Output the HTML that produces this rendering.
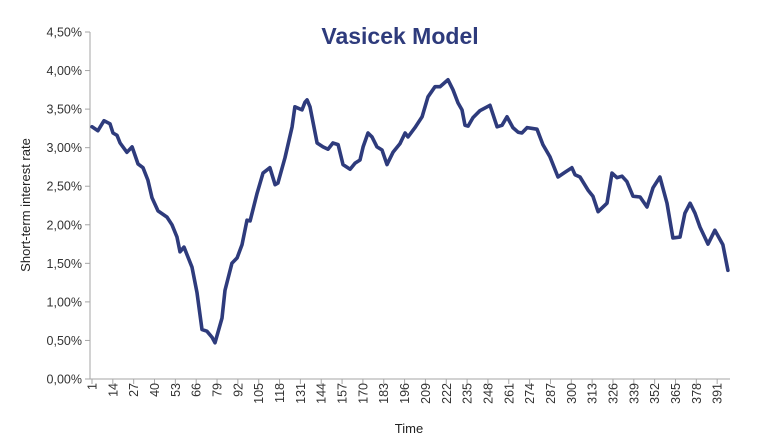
<!DOCTYPE html>
<html><head><meta charset="utf-8"><style>
html,body{margin:0;padding:0;background:#fff;}
svg{display:block;font-family:"Liberation Sans",sans-serif;}
</style></head><body>
<svg id="chart" width="768" height="438" viewBox="0 0 768 438" xmlns="http://www.w3.org/2000/svg">
<text x="400" y="44" text-anchor="middle" font-size="23" font-weight="bold" fill="#2E3B7C">Vasicek Model</text>
<text transform="translate(30,205) rotate(-90)" text-anchor="middle" font-size="13" fill="#222">Short-term interest rate</text>
<text x="409" y="433" text-anchor="middle" font-size="13" fill="#222">Time</text>
<g id="axes"></g>
<g id="series"></g>
</svg>
<script>
const times=[1,4.7,8.5,12.2,14.1,16.6,18.5,22.8,26,29.7,32.8,35.9,38.4,42.2,47.8,50.9,54,55.9,58.4,63.4,66.5,69.6,72.7,75.9,77.7,82.1,84,88.3,91.5,94.6,97.7,99.6,104,107.7,112,115.2,117,121.4,125.8,127.6,132,133.9,135.2,137,141.4,145.1,148.2,151.3,154.5,157.6,162,165.1,168.2,170.1,173.2,175.7,178.8,181.9,185,188.8,193.1,196.3,198.1,202.5,206.9,210.6,215,218.1,223.1,226.2,229.3,231.8,233.7,235.6,238.7,243,249.3,253.7,256.8,259.9,263.6,266.8,269.2,272.4,278.6,282.3,286.7,291.7,296.1,300.4,302.3,305.4,310.4,313.5,316.7,322.3,325.4,328.5,331.6,334.7,338.5,342.9,347.2,351,355.3,359.7,363.4,367.8,370.9,374.1,377.2,380.3,385.3,389.6,394.6,397.7];
const rates=[3.27,3.22,3.35,3.31,3.19,3.16,3.06,2.94,3.01,2.79,2.74,2.58,2.35,2.18,2.10,2.00,1.84,1.65,1.71,1.45,1.12,0.64,0.62,0.54,0.47,0.79,1.15,1.50,1.57,1.74,2.06,2.05,2.41,2.67,2.74,2.52,2.54,2.87,3.27,3.53,3.49,3.59,3.62,3.53,3.06,3.01,2.98,3.06,3.04,2.78,2.72,2.80,2.84,3.01,3.19,3.14,3.01,2.97,2.78,2.94,3.05,3.19,3.14,3.26,3.40,3.66,3.79,3.79,3.88,3.75,3.58,3.49,3.29,3.28,3.39,3.48,3.55,3.27,3.29,3.40,3.26,3.20,3.19,3.26,3.24,3.04,2.88,2.62,2.68,2.74,2.65,2.62,2.45,2.37,2.17,2.28,2.67,2.61,2.63,2.56,2.37,2.36,2.23,2.48,2.62,2.28,1.83,1.84,2.15,2.28,2.15,1.97,1.75,1.93,1.74,1.41];
const yTicks=[0,0.5,1,1.5,2,2.5,3,3.5,4,4.5];
const xTicks=[1,14,27,40,53,66,79,92,105,118,131,144,157,170,183,196,209,222,235,248,261,274,287,300,313,326,339,352,365,378,391];
const NS="http://www.w3.org/2000/svg";
const x0=90,x1=730,y0=379,yTop=32;
function xs(t){return 92+(t-1)*1.603;}
function ys(v){return y0-(v/4.5)*(y0-yTop);}
function mk(tag,attrs,parent){const e=document.createElementNS(NS,tag);for(const k in attrs)e.setAttribute(k,attrs[k]);parent.appendChild(e);return e;}
const ax=document.getElementById('axes');
let yl=mk('line',{x1:x0,y1:yTop,x2:x0,y2:y0,stroke:'#a6a6a6','stroke-width':1},ax);


let xl=mk('line',{x1:x0,y1:y0,x2:x1,y2:y0,stroke:'#a6a6a6','stroke-width':1},ax);


yTicks.forEach(v=>{
  const y=ys(v);
  mk('line',{x1:x0-5,y1:y,x2:x0,y2:y,stroke:'#a6a6a6'},ax);
  const t=mk('text',{x:x0-8,y:y+4.5,'text-anchor':'end','font-size':12.5,fill:'#333'},ax);
  t.textContent=v.toFixed(2).replace('.',',')+'%';
  
  
});
xTicks.forEach(v=>{
  const x=xs(v);
  mk('line',{x1:x,y1:y0,x2:x,y2:y0+5,stroke:'#a6a6a6'},ax);
  const t=mk('text',{transform:`translate(${x+4.5},${y0+4}) rotate(-90)`,'text-anchor':'end','font-size':12.5,fill:'#333'},ax);
  t.textContent=String(v);
  
  
});
const pts=times.map((t,i)=>xs(t).toFixed(1)+','+ys(rates[i]).toFixed(1)).join(' ');
const pl=mk('polyline',{points:pts,fill:'none',stroke:'#2E3B7C','stroke-width':3.6,'stroke-linejoin':'round','stroke-linecap':'round'},document.getElementById('series'));


</script>
</body></html>
